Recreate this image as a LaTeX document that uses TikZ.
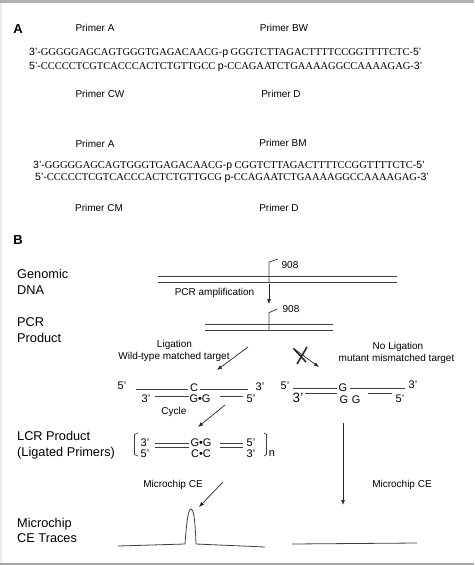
\documentclass[tikz,border=0pt]{standalone}
\usepackage{fontspec}
\setmainfont{Liberation Sans}
\newfontfamily\seqfont{Liberation Serif}
\usetikzlibrary{arrows.meta}
\newcommand{\pend}[1]{{\normalfont #1}}

\begin{document}
\begin{tikzpicture}[x=1pt, y=-1pt,
  lab/.style={font=\fontsize{10}{12}\selectfont, inner sep=0pt},
  big/.style={
    font=\fontsize{12.75}{15.5}\selectfont,
    align=left, anchor=west, inner sep=0pt
  },
  panel/.style={font=\fontsize{13}{15}\selectfont\bfseries, inner sep=0pt},
  seq/.style={font=\fontsize{10.5}{12}\seqfont, anchor=west, inner sep=0pt},
  nt/.style={font=\fontsize{11}{13}\selectfont, inner sep=0pt},
  strand/.style={line width=0.8pt, black!75},
  flow/.style={line width=0.7pt, black!85, -{Latex[length=5pt,width=4pt]}}
]
\useasboundingbox (0,0) rectangle (474,565);
% frame of the figure
\fill[gray!60] (0,0) rectangle (474,2.5);
\fill[gray!70] (0,562.5) rectangle (474,565);
\fill[gray!15] (0,2.5) rectangle (2,562.5);

% --- Panel A ---
\node[panel] (pA) at (18,29) {A};

\node[lab] (prA1) at (95,28) {Primer A};
\node[lab] (prBW) at (284,28) {Primer BW};
\node[seq] (sq1) at (29,53)
  {\pend{3’-}GGGGGAGCAGTGGGTGAGACAACG\pend{-p} GGGTCTTAGACTTTTCCGGTTTTCTC\pend{-5’}};
\node[seq] (sq2) at (29,66.5)
  {\pend{5’-}CCCCCTCGTCACCCACTCTGTTGCC \pend{p-}CCAGAATCTGAAAAGGCCAAAAGAG\pend{-3’}};
\node[lab] (prCW) at (100,93.5) {Primer CW};
\node[lab] (prD1) at (281,94) {Primer D};

\node[lab] (prA2) at (95,143.5) {Primer A};
\node[lab] (prBM) at (283,143) {Primer BM};
\node[seq] (sq3) at (33,166)
  {\pend{3’-}GGGGGAGCAGTGGGTGAGACAACG\pend{-p} CGGTCTTAGACTTTTCCGGTTTTCTC\pend{-5’}};
\node[seq] (sq4) at (35,178)
  {\pend{5’-}CCCCCTCGTCACCCACTCTGTTGCG \pend{p-}CCAGAATCTGAAAAGGCCAAAAGAG\pend{-3’}};
\node[lab] (prCM) at (99,208) {Primer CM};
\node[lab] (prD2) at (279,208) {Primer D};

% --- Panel B ---
\node[panel] (pB) at (18,240) {B};

\node[big] (gdna) at (17,282) {Genomic\\DNA};
\node[big] (pcrp) at (17,330) {PCR\\Product};
\node[big] (lcrp) at (17,445) {LCR Product\\(Ligated Primers)};
\node[big] (mcet) at (17,530.5) {Microchip\\CE Traces};

% genomic DNA
\foreach \y in {276,282.5}
  \draw[strand] (158,\y) -- (397,\y);
\draw[strand] (269,282.5) -- (269,262) -- (278,259);
\node[lab] (loc1) at (290,265) {908};

\coordinate (amp1) at (269,284);
\coordinate (amp2) at (269,304);
\draw[flow] (amp1) -- (amp2);
\node[lab] (ampl) at (214.5,293) {PCR amplification};

% PCR product
\foreach \y in {324.3,330.7}
  \draw[strand] (205,\y) -- (333,\y);
\draw[strand] (269,330.7) -- (269,312.7) -- (277,309);
\node[lab] (loc2) at (291,309.5) {908};

% ligation / no ligation
\node[lab] (lig) at (174.5,345) {Ligation};
\node[lab] (wt) at (174,357) {Wild-type matched target};
\coordinate (la1) at (248,347);
\coordinate (la2) at (217,370);
\draw[flow] (la1) -- (la2);

\node[lab] (nolig) at (398,346.5) {No Ligation};
\node[lab] (mut) at (396.5,358.5) {mutant mismatched target};
\coordinate (na1) at (293,348);
\coordinate (na2) at (319,367);
\draw[flow] (na1) -- (na2);
\draw[line width=1.6pt, black!85] (294,349) -- (306,362);
\draw[line width=1.6pt, black!85] (307,347) -- (297,364);

% matched duplex
\node[nt] (m5a) at (122,386) {5’};
\node[nt] (mC) at (194,388) {C};
\node[nt] (m3a) at (260,387) {3’};
\node[nt] (m3b) at (146,399) {3’};
\node[nt] (mGG) at (200,399) {G•G};
\node[nt] (m5b) at (251,399) {5’};
\draw[strand] (136,389) -- (188,389);
\draw[strand] (200,389) -- (248,389);
\draw[strand] (155,396) -- (189,396);
\draw[strand] (220,396) -- (243,396);

\node[lab] (cyc) at (174,411.5) {Cycle};
\coordinate (ca1) at (225,405);
\coordinate (ca2) at (198,427);
\draw[flow] (ca1) -- (ca2);

% mismatched duplex
\node[nt] (x5a) at (285,386) {5’};
\node[nt] (xG) at (343,388) {G};
\node[nt] (x3a) at (413,385) {3’};
\node[nt, font=\fontsize{13.5}{15}\selectfont] (x3b) at (298,398) {3’};
\node[nt] (xGG) at (350,400) {G\hspace{3.5pt}G};
\node[nt] (x5b) at (400,399) {5’};
\draw[strand] (293,388.3) -- (337,388.3);
\draw[strand] (350,388.3) -- (405,388.3);
\draw[strand] (305,393.3) -- (337,393.3);
\draw[strand] (368,393.3) -- (392,393.3);

\coordinate (va1) at (343,423);
\coordinate (va2) at (343,505);
\draw[flow] (va1) -- (va2);

% LCR product
\draw[strand, line width=0.7pt] (138,433) -- (134.5,434.5) -- (134.5,454.5) -- (138,456);
\draw[strand, line width=0.7pt] (264,433) -- (266.5,434.5) -- (266.5,454.5) -- (264,456);
\node[nt] (l3a) at (145,443) {3’};
\node[nt] (l5a) at (145,453.5) {5’};
\node[nt] (lGG) at (201,443) {G•G};
\node[nt] (lCC) at (201,453.5) {C•C};
\node[nt] (l5b) at (251,443) {5’};
\node[nt] (l3b) at (251,453.5) {3’};
\node[nt] (rep) at (272,454) {n};
\foreach \y in {443.3,447.3} {
  \draw[strand] (155,\y) -- (189,\y);
  \draw[strand] (220,\y) -- (243,\y);
}

% microchip CE
\node[lab] (ce1) at (173,485) {Microchip CE};
\coordinate (ea1) at (223,482);
\coordinate (ea2) at (199,507);
\draw[flow] (ea1) -- (ea2);
\node[lab] (ce2) at (402,485) {Microchip CE};

\draw[strand] (118,546) -- (185,544)
  .. controls (187,515) and (189,509) .. (191,509)
  .. controls (193,509) and (195,515) .. (196,544) -- (265,547);
\draw[strand] (292,544) -- (417,543);

\end{tikzpicture}
\end{document}
